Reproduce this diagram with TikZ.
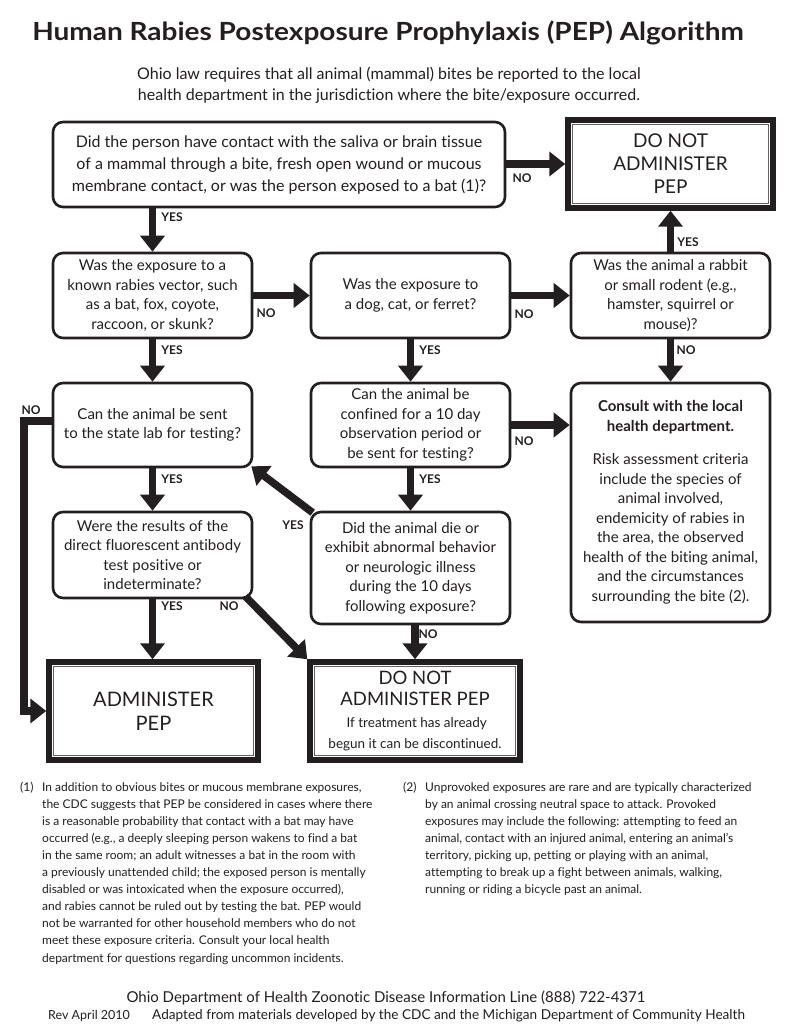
\documentclass[tikz,border=0pt]{standalone}
\usepackage{fontspec}
\setmainfont{Lato}[Ligatures=CommonOff]
\newfontfamily\titlefont[FakeStretch=1.12,Ligatures=CommonOff]{Lato}
\usetikzlibrary{arrows.meta,calc}
\definecolor{ink}{HTML}{231F20}
\begin{document}
\begin{tikzpicture}[x=1pt,y=-1pt,
  q/.style={draw=ink, line width=2.6pt, rounded corners=10pt, align=center,
    font=\fontsize{15}{19.5}\selectfont, text=ink, inner sep=2pt,
    minimum width=199pt, minimum height=85pt},
  fin/.style={draw=ink, line width=5.5pt, align=center, text=ink, inner sep=2pt},
  arr/.style={line width=7.5pt, draw=ink, -{Triangle[width=24pt,length=16pt]}},
  lab/.style={font=\bfseries\fontsize{12}{12}\selectfont, text=ink, inner sep=0pt},
  foot/.style={font=\fontsize{12}{17.1}\selectfont, text=ink, align=left, inner sep=0pt, anchor=north west},
]
\useasboundingbox[fill=white] (0,0) rectangle (796,1024);

% header
\node[font=\titlefont\bfseries\fontsize{25}{28}\selectfont, text=ink] (title) at (388,33) {Human Rabies Postexposure Prophylaxis (PEP) Algorithm};
\node[font=\fontsize{16}{21}\selectfont, text=ink, align=center] (sub) at (389,85)
  {Ohio law requires that all animal (mammal) bites be reported to the local\\health department in the jurisdiction where the bite/exposure occurred.};

% decision boxes
\node[q, minimum width=452pt, font=\fontsize{16}{22}\selectfont] (b1) at (279,164.5)
  {Did the person have contact with the saliva or brain tissue\\of a mammal through a bite, fresh open wound or mucous\\membrane contact, or was the person exposed to a bat (1)?};
\node[q] (b2) at (152.5,295.5) {Was the exposure to a\\known rabies vector, such\\as a bat, fox, coyote,\\raccoon, or skunk?};
\node[q] (b3) at (410.5,295.5) {Was the exposure to\\a dog, cat, or ferret?};
\node[q] (b4) at (670.5,295.5) {Was the animal a rabbit\\or small rodent (e.g.,\\hamster, squirrel or\\mouse)?};
\node[q, minimum height=84pt] (b5) at (152.5,425) {Can the animal be sent\\to the state lab for testing?};
\node[q, minimum height=84pt] (b6) at (410.5,425) {Can the animal be\\confined for a 10 day\\observation period or\\be sent for testing?};
\node[q, minimum height=239pt] (b7) at (670.5,502.5)
  {\bfseries Consult with the local\\\bfseries health department.\\[14pt]
   \mdseries Risk assessment criteria\\include the species of\\animal involved,\\endemicity of rabies in\\the area, the observed\\health of the biting animal,\\and the circumstances\\surrounding the bite (2).};
\node[q, minimum height=86pt] (b8) at (152.5,555) {Were the results of the\\direct fluorescent antibody\\test positive or\\indeterminate?};
\node[q, minimum height=112pt] (b9) at (410.5,568) {Did the animal die or\\exhibit abnormal behavior\\or neurologic illness\\during the 10 days\\following exposure?};

% final boxes
\node[fin, minimum width=205pt, minimum height=88pt, font=\fontsize{19}{23}\selectfont] (d1) at (670.5,164)
  {DO NOT\\ADMINISTER\\PEP};
\node[fin, minimum width=209pt, minimum height=98pt, font=\fontsize{20}{24}\selectfont] (adm) at (153.5,711)
  {ADMINISTER\\PEP};
\node[fin, minimum width=210pt, minimum height=98pt, font=\fontsize{18.5}{21}\selectfont] (d2) at (415,711)
  {DO NOT\\ADMINISTER PEP\\[1pt]\fontsize{13.5}{16.5}\selectfont\ If treatment has already\\\fontsize{13.5}{16.5}\selectfont begun it can be discontinued.};
\foreach \n in {d1,adm,d2}{
  \draw[ink!70, line width=0.7pt] ($(\n.north west)+(7.5,7.5)$) rectangle ($(\n.south east)+(-7.5,-7.5)$);
}

% connectors
\draw[arr] (b1.east |- d1.west) -- (d1.west);
\node[lab] (l1) at (522,178) {NO};
\draw[arr] (b1.south -| b2.north) -- (b2.north);
\node[lab] (l2) at (172,217) {YES};
\draw[arr] (b2.east) -- (b3.west);
\node[lab] (l3) at (266,313) {NO};
\draw[arr] (b3.east) -- (b4.west);
\node[lab] (l4) at (524,314) {NO};
\draw[arr] (b4.north) -- (d1.south);
\node[lab] (l5) at (688,242) {YES};
\draw[arr] (b2.south) -- (b5.north);
\node[lab] (l6) at (172,350) {YES};
\draw[arr] (b3.south) -- (b6.north);
\node[lab] (l7) at (430,350) {YES};
\draw[arr] (b4.south) -- (b7.north);
\node[lab] (l8) at (686,350) {NO};
\draw[arr] (b6.east) -- (b6.east -| b7.west);
\node[lab] (l9) at (524,441) {NO};
\coordinate (c1) at (24,421);
\coordinate (c2) at (24,711);
\draw[arr] (b5.west |- c1) -- (c1) -- (c2) -- (adm.west);
\node[lab] (l10) at (31,410) {NO};
\draw[arr] (b5.south) -- (b8.north);
\node[lab] (l11) at (172,479) {YES};
\draw[arr] (b6.south) -- (b9.north);
\node[lab] (l12) at (430,479) {YES};
\draw[arr] ([shift={(3,2)}]b9.north west) -- ([shift={(-2,-2)}]b5.south east);
\node[lab] (l13) at (293,525) {YES};
\draw[arr] (b8.south) -- (adm.north -| b8.south);
\node[lab] (l14) at (172,606) {YES};
\draw[arr] ([shift={(-8,-3)}]b8.south east) -- (d2.north west);
\node[lab] (l15) at (229,606) {NO};
\draw[arr] (b9.south -| d2.north) -- (d2.north);
\node[lab] (l16) at (428,634) {NO};

% footnotes
\node[foot] (n1) at (20,782) {(1)};
\node[foot] (f1) at (42,782) {In addition to obvious bites or mucous membrane exposures,\\
the CDC suggests that PEP be considered in cases where there\\
is a reasonable probability that contact with a bat may have\\
occurred (e.g., a deeply sleeping person wakens to find a bat\\
in the same room; an adult witnesses a bat in the room with\\
a previously unattended child; the exposed person is mentally\\
disabled or was intoxicated when the exposure occurred),\\
and rabies cannot be ruled out by testing the bat. PEP would\\
not be warranted for other household members who do not\\
meet these exposure criteria. Consult your local health\\
department for questions regarding uncommon incidents.};
\node[foot] (n2) at (403,782) {(2)};
\node[foot] (f2) at (425,782) {Unprovoked exposures are rare and are typically characterized\\
by an animal crossing neutral space to attack. Provoked\\
exposures may include the following: attempting to feed an\\
animal, contact with an injured animal, entering an animal’s\\
territory, picking up, petting or playing with an animal,\\
attempting to break up a fight between animals, walking,\\
running or riding a bicycle past an animal.};

% bottom
\node[font=\fontsize{15}{17}\selectfont, text=ink] (ohio) at (386,998) {Ohio Department of Health Zoonotic Disease Information Line (888) 722-4371};
\node[font=\fontsize{12.5}{15}\selectfont, text=ink, anchor=west, inner sep=0pt] (rev) at (48,1016) {Rev April 2010};
\node[font=\fontsize{13.6}{15}\selectfont, text=ink, anchor=west, inner sep=0pt] (adapt) at (152,1016) {Adapted from materials developed by the CDC and the Michigan Department of Community Health};
\end{tikzpicture}
\end{document}
